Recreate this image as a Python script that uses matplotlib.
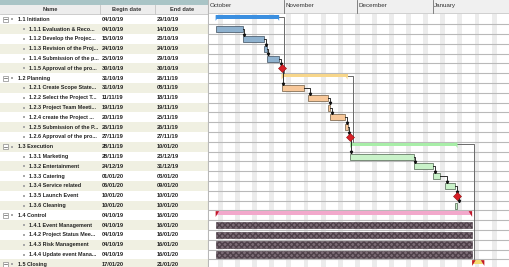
import matplotlib
matplotlib.use('Agg')
import matplotlib.pyplot as plt
import matplotlib.dates as mdates
from matplotlib.patches import Rectangle, Polygon
import datetime as dt

# ---------------- data ----------------
names = ["1.1 Initiation", "1.1.1 Evaluation & Reco...", "1.1.2 Develop the Projec...",
         "1.1.3 Revision of the Proj...", "1.1.4 Submission of the p...", "1.1.5 Approval of the pro...",
         "1.2 Planning", "1.2.1 Create Scope State...", "1.2.2 Select the Project T...",
         "1.2.3 Project Team Meeti...", "1.2.4 create the Project ...", "1.2.5 Submission of the P...",
         "1.2.6 Approval of the pro...", "1.3 Execution", "1.3.1 Marketing", "1.3.2 Entertainment",
         "1.3.3 Catering", "1.3.4 Service related", "1.3.5 Launch Event", "1.3.6 Cleaning",
         "1.4 Control", "1.4.1 Event Management", "1.4.2 Project Status Mee...",
         "1.4.3 Risk Management", "1.4.4 Update event Mana...", "1.5 Closing"]
begin_dates = ["04/10/19", "04/10/19", "15/10/19", "24/10/19", "25/10/19", "30/10/19",
               "31/10/19", "31/10/19", "11/11/19", "19/11/19", "20/11/19", "26/11/19",
               "27/11/19", "28/11/19", "28/11/19", "24/12/19", "01/01/20", "06/01/20",
               "10/01/20", "10/01/20", "04/10/19", "04/10/19", "04/10/19", "04/10/19",
               "04/10/19", "17/01/20"]
end_dates = ["29/10/19", "14/10/19", "23/10/19", "24/10/19", "29/10/19", "30/10/19",
             "26/11/19", "08/11/19", "18/11/19", "19/11/19", "25/11/19", "26/11/19",
             "27/11/19", "10/01/20", "23/12/19", "31/12/19", "03/01/20", "09/01/20",
             "10/01/20", "10/01/20", "16/01/20", "16/01/20", "16/01/20", "16/01/20",
             "16/01/20", "21/01/20"]
kinds = ["S", "T", "T", "T", "T", "M",
         "S", "T", "T", "T", "T", "T", "M",
         "S", "T", "T", "T", "T", "M", "T",
         "S", "T", "T", "T", "T", "S"]
task_links = [(1, 2), (2, 3), (3, 4), (4, 5), (5, 7), (7, 8), (8, 9), (9, 10), (10, 11),
              (11, 12), (12, 14), (14, 15), (15, 16), (16, 17), (17, 18), (18, 19)]
summary_links = [(0, 6), (6, 13), (13, 25)]
months = ["October", "November", "December", "January"]
month_starts = ["01/10/19", "01/11/19", "01/12/19", "01/01/20"]

# ---------------- style ----------------
def parse(s):
    return mdates.date2num(dt.datetime.strptime(s, "%d/%m/%y"))

B = [parse(s) for s in begin_dates]
E = [parse(s) + 1 for s in end_dates]

W, H = 510, 267
fig = plt.figure(figsize=(W / 100, H / 100), dpi=100)
FONT = ['Liberation Sans', 'DejaVu Sans']
FS = 4.1
FS_NAME = 3.85
TABLE_W = 209

ROW0, PITCH = 19.3, 9.8
def center(i):
    return ROW0 + PITCH * i
def top(i):
    return center(i) - PITCH / 2

# ---- table ----
ta = fig.add_axes([0, 0, TABLE_W / W, 1])
ta.set_xlim(0, TABLE_W)
ta.set_ylim(H, 0)
ta.axis('off')
ta.add_patch(Rectangle((0, 0), TABLE_W, 4.5, color='#a9c4c6', lw=0))
ta.add_patch(Rectangle((0, 4.5), TABLE_W, top(0) - 4.5, color='#ededed', lw=0))
ta.plot([0, TABLE_W], [top(0), top(0)], color='#c4c4c4', lw=0.6)
for xs in (100, 155):
    ta.plot([xs, xs], [4.5, top(0)], color='#c4c4c4', lw=0.6)
for lab, xc in (("Name", 50), ("Begin date", 127), ("End date", 182)):
    ta.text(xc, 9.6, lab, ha='center', va='center', fontsize=FS, family=FONT,
            fontweight='bold', color='#333333')

for i, nm in enumerate(names):
    c = center(i)
    if i % 2 == 1:
        ta.add_patch(Rectangle((0, top(i)), TABLE_W, PITCH, color='#f0f0e2', lw=0))
    if kinds[i] == "S":
        ta.add_patch(Rectangle((3, c - 2.5), 5, 5, fc='white', ec='#8a8a8a', lw=0.5))
        ta.plot([4.2, 6.8], [c, c], color='#555555', lw=0.5)
        bx, tx = 12, 18
    else:
        bx, tx = 24.5, 29
    ta.add_patch(Rectangle((bx - 1, c - 1), 2, 2, color='#a8a8a8', lw=0))
    ta.text(tx, c, nm, ha='left', va='center', fontsize=FS_NAME, family=FONT,
            fontweight='bold', color='#222222')
    ta.text(101.5, c, begin_dates[i], ha='left', va='center', fontsize=FS, family=FONT,
            fontweight='bold', color='#222222')
    ta.text(157, c, end_dates[i], ha='left', va='center', fontsize=FS, family=FONT,
            fontweight='bold', color='#222222')
ta.plot([TABLE_W - 0.5, TABLE_W - 0.5], [0, H], color='#b8b8b8', lw=0.8)

# ---- gantt ----
PPD = 2.443
d0 = parse("01/10/19")
x_left = d0 + (TABLE_W - 208.3) / PPD
x_right = x_left + (W - TABLE_W) / PPD
px = 1 / PPD

ga = fig.add_axes([TABLE_W / W, 0, (W - TABLE_W) / W, 1])
ga.set_xlim(x_left, x_right)
ga.set_ylim(H, 0)
ga.axis('off')

# weekends
d = dt.datetime(2019, 9, 28)
while mdates.date2num(d) < x_right:
    if d.weekday() == 5:
        dn = mdates.date2num(d)
        ga.add_patch(Rectangle((dn, top(0)), 2, H, color='#ececec', lw=0, zorder=0))
    d += dt.timedelta(days=1)

# header
ga.add_patch(Rectangle((x_left, 0), x_right - x_left, top(0) - 1.5, color='#f0f0f0', lw=0, zorder=1))
ga.plot([x_left, x_right], [top(0) - 1.5, top(0) - 1.5], color='#c8c8c8', lw=0.6, zorder=2)
for m, ms in zip(months, month_starts):
    xm = parse(ms)
    ga.plot([xm, xm], [0, top(0) - 1.5], color='#707070', lw=0.6, zorder=2)
    ga.text(xm + 1 * px, 5.8, m, ha='left', va='center', fontsize=FS + 0.4, family=FONT,
            color='#333333', zorder=3)

# row lines
for i in range(len(names)):
    yb = top(i) + PITCH
    ga.plot([x_left, x_right], [yb, yb], color='#b9b9b9', lw=0.8, zorder=1)

sum_colors = {"1.1": '#3b8fe0', "1.2": '#f7d68a', "1.3": '#a8eea8', "1.4": '#f2a8cb', "1.5": '#f5dc72'}
task_face = {"1.1": '#8fb2cf', "1.2": '#f8c89a', "1.3": '#c9f2c9'}
task_edge = {"1.1": '#3c4c5c', "1.2": '#6e5a40', "1.3": '#4f624f'}

for i, nm in enumerate(names):
    grp = nm.split()[0][:3]
    c = center(i)
    t = top(i)
    if kinds[i] == "S":
        col = sum_colors[grp]
        ga.add_patch(Rectangle((B[i], t + 0.8), E[i] - B[i], 3.4, color=col, lw=0, zorder=3))
        capc = col if grp in ("1.1", "1.2", "1.3") else '#c0182a'
        ga.add_patch(Polygon([(B[i], t + 0.8), (B[i] + 3.5 * px, t + 0.8), (B[i], t + 6.5)],
                             closed=True, color=capc, lw=0, zorder=4))
        ga.add_patch(Polygon([(E[i], t + 0.8), (E[i] - 3.5 * px, t + 0.8), (E[i], t + 6.5)],
                             closed=True, color=capc, lw=0, zorder=4))
    elif kinds[i] == "M":
        ga.plot([E[i]], [c], marker='D', ms=4.0, color='#d81f26', mec='#8a1010', mew=0.4, zorder=6)
    else:
        if grp == "1.4":
            ga.add_patch(Rectangle((B[i], c - 3.3), E[i] - B[i], 6.6, fc='#7c6c76', ec='#4e4049',
                                   lw=0.4, hatch='xxxxxx', zorder=3))
        else:
            ga.add_patch(Rectangle((B[i], c - 3), E[i] - B[i], 6, fc=task_face[grp],
                                   ec=task_edge[grp], lw=0.5, zorder=3))

# task dependency links
for p, s in task_links:
    xe = E[p]
    yp = center(p)
    xt = max(xe + 1.5 * px, B[s] + 1.5 * px)
    ys = (top(s) + 1) if kinds[s] == "S" else center(s) - 3
    ga.plot([xe, xt, xt], [yp, yp, ys - 1], color='#111111', lw=0.6, zorder=5)
    ga.plot([xt], [ys - 1.2], marker='v', ms=1.6, color='#111111', zorder=5)

# summary links
for p, s in summary_links:
    xe = E[p]
    yp = top(p) + 2.5
    xt = max(xe + 5 * px, B[s] + 2 * px)
    ga.plot([xe, xt, xt], [yp, yp, top(s) + 1], color='#6a6a6a', lw=0.7, zorder=2)

fig.savefig("out.png", dpi=100)
